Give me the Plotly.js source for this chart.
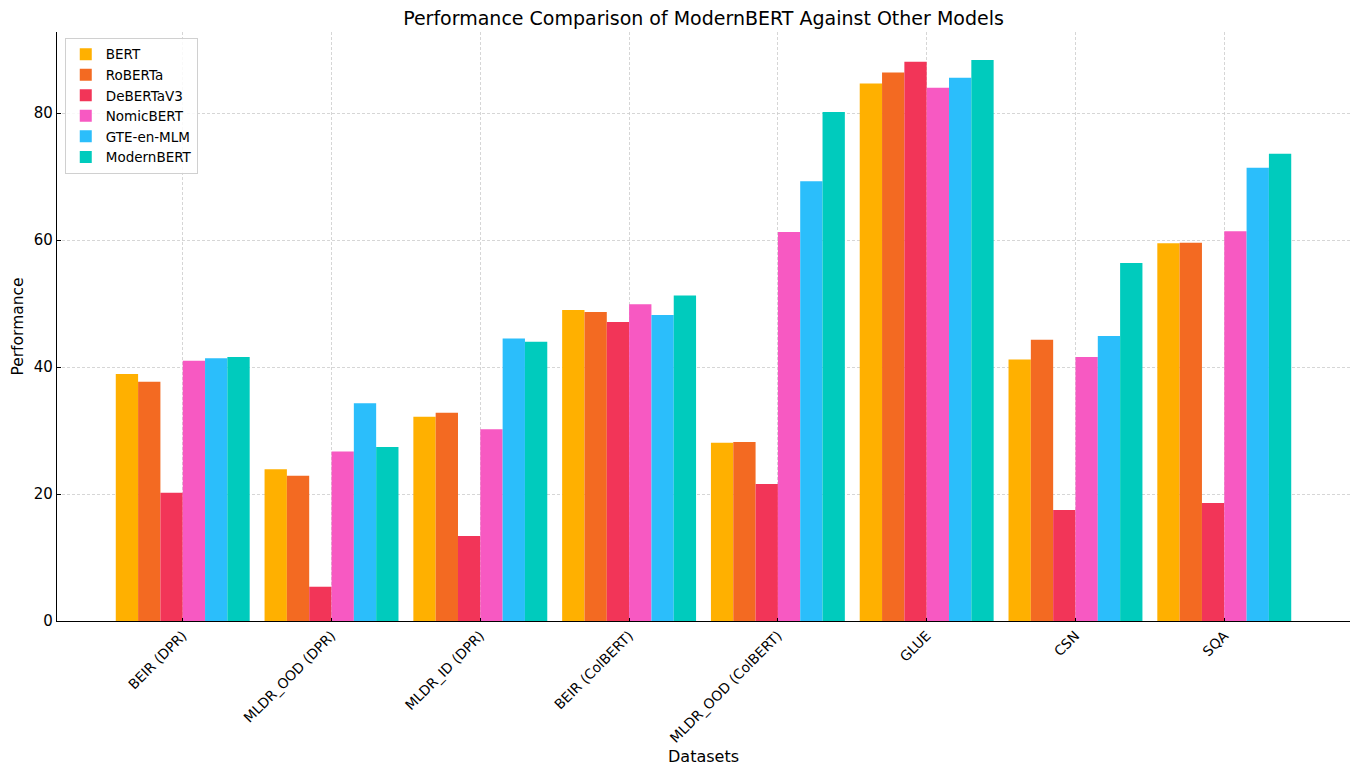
<!DOCTYPE html>
<html>
<head>
<meta charset="utf-8">
<script src="https://cdn.plot.ly/plotly-3.0.1.min.js"></script>
<style>
  html, body { margin: 0; padding: 0; background: #fff; }
  #chart { width: 1358px; height: 772px; }
</style>
</head>
<body>
<div id="chart"></div>
<script>
// Benchmark datasets on the x axis
const datasets = ["BEIR (DPR)", "MLDR_OOD (DPR)", "MLDR_ID (DPR)", "BEIR (ColBERT)",
                  "MLDR_OOD (ColBERT)", "GLUE", "CSN", "SQA"];

// Scores per model, one value per dataset
const bert       = [38.9, 23.9, 32.2, 49.0, 28.1, 84.7, 41.2, 59.5];
const roberta    = [37.7, 22.9, 32.8, 48.7, 28.2, 86.4, 44.3, 59.6];
const debertav3  = [20.2,  5.4, 13.4, 47.1, 21.6, 88.1, 17.5, 18.6];
const nomicbert  = [41.0, 26.7, 30.2, 49.9, 61.3, 84.0, 41.6, 61.4];
const gteEnMlm   = [41.4, 34.3, 44.5, 48.2, 69.3, 85.6, 44.9, 71.4];
const modernbert = [41.6, 27.4, 44.0, 51.3, 80.2, 88.4, 56.4, 73.6];

const modelNames = ["BERT", "RoBERTa", "DeBERTaV3", "NomicBERT", "GTE-en-MLM", "ModernBERT"];
const modelScores = [bert, roberta, debertav3, nomicbert, gteEnMlm, modernbert];
const modelColors = ["#FFB000", "#F36A22", "#F23558", "#F759C2", "#2BBEFB", "#00CBBD"];

const traces = modelNames.map((name, i) => ({
  type: "bar",
  name: name,
  x: datasets.map((_, k) => k),
  y: modelScores[i],
  marker: { color: modelColors[i], line: { width: 0 } },
  hovertemplate: "%{y}<extra>" + name + "</extra>"
}));

const font = "DejaVu Sans, sans-serif";
const gridStyle = { showgrid: true, gridcolor: "#cccccc", griddash: "3px,2px", gridwidth: 0.8 };

const layout = {
  width: 1358,
  height: 772,
  margin: { l: 57, r: 8, t: 32, b: 151 },
  paper_bgcolor: "#ffffff",
  plot_bgcolor: "#ffffff",
  barmode: "group",
  bargap: 0.1,
  bargroupgap: 0,
  font: { family: font, size: 12, color: "#000" },
  title: {
    text: "Performance Comparison of ModernBERT Against Other Models",
    font: { family: font, size: 19, color: "#000" },
    x: 0.5, xanchor: "center", xref: "paper",
    y: 1 - 18 / 772, yanchor: "middle", yref: "container"
  },
  xaxis: Object.assign({
    tickmode: "array",
    tickvals: datasets.map((_, k) => k),
    ticktext: datasets,
    tickangle: -45,
    tickfont: { family: font, size: 13.8, color: "#000" },
    range: [-0.845, 7.845],
    showline: true, linecolor: "#000", linewidth: 1.2,
    ticks: "inside", ticklen: 3.5, tickcolor: "#000",
    zeroline: false,
    title: { text: "Datasets", font: { family: font, size: 16, color: "#000" }, standoff: 6 }
  }, gridStyle),
  yaxis: Object.assign({
    range: [0, 92.8],
    tickvals: [0, 20, 40, 60, 80],
    tickfont: { family: font, size: 15, color: "#000" },
    showline: true, linecolor: "#000", linewidth: 1.2,
    ticks: "inside", ticklen: 3.5, tickcolor: "#000",
    zeroline: false,
    title: { text: "Performance", font: { family: font, size: 15.5, color: "#000" }, standoff: 6 }
  }, gridStyle),
  legend: {
    x: 0.006, y: 0.99, xanchor: "left", yanchor: "top",
    bgcolor: "rgba(255,255,255,0.85)",
    bordercolor: "#d0d0d0", borderwidth: 1,
    font: { family: font, size: 13.5, color: "#000" },
    tracegroupgap: 0,
    itemwidth: 30
  },
  showlegend: true
};

Plotly.newPlot("chart", traces, layout, { displayModeBar: false, staticPlot: true });
</script>
</body>
</html>
